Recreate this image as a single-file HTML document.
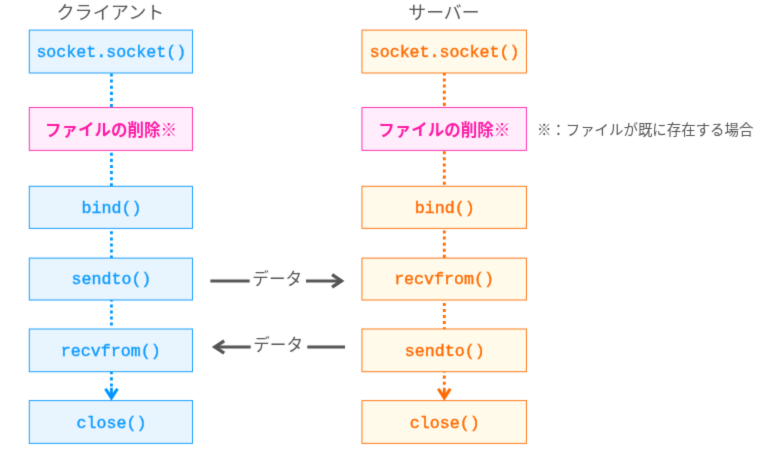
<!DOCTYPE html>
<html lang="ja">
<head>
<meta charset="utf-8">
<title>UNIX domain socket (UDP) flow: client / server</title>
<style>
html,body{margin:0;padding:0;background:#fff}
body{font-family:"Liberation Sans","Noto Sans CJK JP",sans-serif}
#stage{position:relative;width:768px;height:450px;overflow:hidden;background:#fff}
#stage svg{position:absolute;left:0;top:0;display:block}
.mono{font-family:"Liberation Mono",monospace;font-size:16.65px;font-weight:400}
.jp{font-family:"Liberation Sans","Noto Sans CJK JP",sans-serif}
</style>
</head>
<body>
<div id="stage">
<svg width="768" height="450" viewBox="0 0 768 450">
<defs><filter id="soft" filterUnits="userSpaceOnUse" x="0" y="0" width="768" height="450" color-interpolation-filters="sRGB"><feConvolveMatrix order="3" kernelMatrix="0.0132 0.0886 0.0132 0.0886 0.5929 0.0886 0.0132 0.0886 0.0132" edgeMode="duplicate" preserveAlpha="false"/></filter></defs>
<g filter="url(#soft)">
<path d="M111.45 73.4V107.3" stroke="#0096ff" stroke-width="2.8" stroke-dasharray="3.07 3.07" fill="none"/>
<path d="M111.45 186.3V150.4" stroke="#0096ff" stroke-width="2.8" stroke-dasharray="3.05 3.05" fill="none"/>
<path d="M111.45 258.6V228.4" stroke="#0096ff" stroke-width="2.8" stroke-dasharray="3.03 3.03" fill="none"/>
<path d="M111.45 298.4V327" stroke="#0096ff" stroke-width="2.8" stroke-dasharray="3.02 3.02" fill="none"/>
<path d="M111.45 371.3V387.2" stroke="#0096ff" stroke-width="2.8" stroke-dasharray="3.03 3.03" fill="none"/>
<path d="M444.3 72.35V107.5" stroke="#ff6a00" stroke-width="2.8" stroke-dasharray="3.05 3.05" fill="none"/>
<path d="M444.3 151.2V186.3" stroke="#ff6a00" stroke-width="2.8" stroke-dasharray="3.05 3.05" fill="none"/>
<path d="M444.3 257.9V228.4" stroke="#ff6a00" stroke-width="2.8" stroke-dasharray="3.05 3.05" fill="none"/>
<path d="M444.3 302.9V330.2" stroke="#ff6a00" stroke-width="2.8" stroke-dasharray="3.03 3.03" fill="none"/>
<path d="M444.3 369.5V387.2" stroke="#ff6a00" stroke-width="2.8" stroke-dasharray="3.05 3.05" fill="none"/>
<rect x="29.3" y="30.1" width="163.2" height="42.9" fill="#e8f4fe"/>
<rect x="29.3" y="30.1" width="163.2" height="42.9" fill="none" stroke="#0096ff" stroke-width="1.0" stroke-opacity="0.9"/>
<rect x="361.95" y="30.1" width="164.5" height="42.9" fill="#fffaea"/>
<rect x="361.95" y="30.1" width="164.5" height="42.9" fill="none" stroke="#ff6a00" stroke-width="1.0" stroke-opacity="0.9"/>
<rect x="29.3" y="107.5" width="163.2" height="42.9" fill="#ffedfc"/>
<rect x="29.3" y="107.5" width="163.2" height="42.9" fill="none" stroke="#ff1ea6" stroke-width="1.0" stroke-opacity="0.9"/>
<rect x="361.95" y="107.5" width="164.5" height="42.9" fill="#ffedfc"/>
<rect x="361.95" y="107.5" width="164.5" height="42.9" fill="none" stroke="#ff1ea6" stroke-width="1.0" stroke-opacity="0.9"/>
<rect x="29.3" y="186.3" width="163.2" height="42.1" fill="#e8f4fe"/>
<rect x="29.3" y="186.3" width="163.2" height="42.1" fill="none" stroke="#0096ff" stroke-width="1.0" stroke-opacity="0.9"/>
<rect x="361.95" y="186.3" width="164.5" height="42.1" fill="#fffaea"/>
<rect x="361.95" y="186.3" width="164.5" height="42.1" fill="none" stroke="#ff6a00" stroke-width="1.0" stroke-opacity="0.9"/>
<rect x="29.3" y="258.1" width="163.2" height="41.9" fill="#e8f4fe"/>
<rect x="29.3" y="258.1" width="163.2" height="41.9" fill="none" stroke="#0096ff" stroke-width="1.0" stroke-opacity="0.9"/>
<rect x="361.95" y="258.1" width="164.5" height="41.9" fill="#fffaea"/>
<rect x="361.95" y="258.1" width="164.5" height="41.9" fill="none" stroke="#ff6a00" stroke-width="1.0" stroke-opacity="0.9"/>
<rect x="29.3" y="329" width="163.2" height="42.7" fill="#e8f4fe"/>
<rect x="29.3" y="329" width="163.2" height="42.7" fill="none" stroke="#0096ff" stroke-width="1.0" stroke-opacity="0.9"/>
<rect x="361.95" y="329" width="164.5" height="42.7" fill="#fffaea"/>
<rect x="361.95" y="329" width="164.5" height="42.7" fill="none" stroke="#ff6a00" stroke-width="1.0" stroke-opacity="0.9"/>
<rect x="29.3" y="400.6" width="163.2" height="42.8" fill="#e8f4fe"/>
<rect x="29.3" y="400.6" width="163.2" height="42.8" fill="none" stroke="#0096ff" stroke-width="1.0" stroke-opacity="0.9"/>
<rect x="361.95" y="400.6" width="164.5" height="42.8" fill="#fffaea"/>
<rect x="361.95" y="400.6" width="164.5" height="42.8" fill="none" stroke="#ff6a00" stroke-width="1.0" stroke-opacity="0.9"/>
<path d="M105.46 388.73L111.45 397.95L117.44 388.73" fill="none" stroke="#0096ff" stroke-width="3.1" stroke-linejoin="miter" stroke-miterlimit="10"/>
<path d="M111.45 387.8V397.95" stroke="#0096ff" stroke-width="2.8" fill="none"/>
<path d="M438.31 388.73L444.3 397.95L450.29 388.73" fill="none" stroke="#ff6a00" stroke-width="3.1" stroke-linejoin="miter" stroke-miterlimit="10"/>
<path d="M444.3 387.8V397.95" stroke="#ff6a00" stroke-width="2.8" fill="none"/>
<path d="M210.4 281H249.7" stroke="#555555" stroke-width="3.0" fill="none"/>
<path d="M332.09 274.66L341.51 280.9L332.09 287.14" fill="none" stroke="#555555" stroke-width="3.3" stroke-linejoin="miter" stroke-miterlimit="10"/>
<path d="M306 280.9H341.51" stroke="#555555" stroke-width="3.0" fill="none"/>
<path d="M224.21 340.76L214.79 347L224.21 353.24" fill="none" stroke="#555555" stroke-width="3.3" stroke-linejoin="miter" stroke-miterlimit="10"/>
<path d="M214.79 347H250.7" stroke="#555555" stroke-width="3.0" fill="none"/>
<path d="M307.3 347.05H345" stroke="#555555" stroke-width="3.0" fill="none"/>
<text class="mono" x="36.38" y="57.3" fill="#0f9cff" stroke="#0f9cff" stroke-width="0.38">socket.socket()</text>
<text class="mono" x="81.57" y="212.5" fill="#0f9cff" stroke="#0f9cff" stroke-width="0.38">bind()</text>
<text class="mono" x="71.47" y="284.4" fill="#0f9cff" stroke="#0f9cff" stroke-width="0.38">sendto()</text>
<text class="mono" x="60.84" y="355.8" fill="#0f9cff" stroke="#0f9cff" stroke-width="0.38">recvfrom()</text>
<text class="mono" x="76.55" y="427.7" fill="#0f9cff" stroke="#0f9cff" stroke-width="0.38">close()</text>
<text class="mono" x="369.68" y="57.3" fill="#ff6a00" stroke="#ff6a00" stroke-width="0.38">socket.socket()</text>
<text class="mono" x="414.87" y="212.5" fill="#ff6a00" stroke="#ff6a00" stroke-width="0.38">bind()</text>
<text class="mono" x="394.14" y="284.4" fill="#ff6a00" stroke="#ff6a00" stroke-width="0.38">recvfrom()</text>
<text class="mono" x="404.77" y="355.8" fill="#ff6a00" stroke="#ff6a00" stroke-width="0.38">sendto()</text>
<text class="mono" x="409.85" y="427.7" fill="#ff6a00" stroke="#ff6a00" stroke-width="0.38">close()</text>
<text class="jp" x="45.11" y="136" font-size="16.5" font-weight="700" fill="#ff1aa4">ファイルの削除※</text>
<text class="jp" x="378.31" y="136" font-size="16.5" font-weight="700" fill="#ff1aa4">ファイルの削除※</text>
<text class="jp" x="56.49" y="19" font-size="18.1" fill="#555555">クライアント</text>
<text class="jp" x="408.37" y="19" font-size="17.85" fill="#555555">サーバー</text>
<text class="jp" x="536.88" y="134.5" font-size="14.45" fill="#555555">※：ファイルが既に存在する場合</text>
<text class="jp" x="252.35" y="284.5" font-size="16.6" fill="#555555">データ</text>
<text class="jp" x="253.25" y="350.8" font-size="16.6" fill="#555555">データ</text>
</g>
</svg>
</div>
</body>
</html>
